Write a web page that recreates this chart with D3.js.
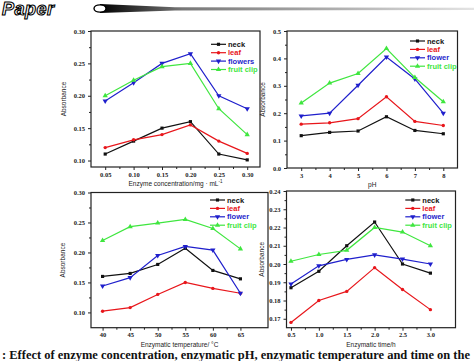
<!DOCTYPE html>
<html><head><meta charset="utf-8">
<script src="https://cdn.jsdelivr.net/npm/d3@7"></script>
<style>
html,body{margin:0;padding:0;background:#fff;}
svg{display:block;}
</style></head>
<body>
<script>
// ---- DATA ----
const seriesNames = ["neck", "leaf", "flowers", "fruit clip"];
const seriesNamesB = ["neck", "leaf", "flower", "fruit clip"];

// (a) enzyme concentration
const concX = [0.05, 0.10, 0.15, 0.20, 0.25, 0.30];
const concNeck = [0.110, 0.130, 0.150, 0.160, 0.110, 0.101];
const concLeaf = [0.120, 0.132, 0.140, 0.155, 0.130, 0.111];
const concFlower = [0.192, 0.220, 0.250, 0.265, 0.200, 0.180];
const concFruit = [0.200, 0.224, 0.245, 0.250, 0.180, 0.140];
const concXTicks = [0.05, 0.10, 0.15, 0.20, 0.25, 0.30];
const concYTicks = [0.10, 0.15, 0.20, 0.25, 0.30];

// (b) pH
const phX = [3, 4, 5, 6, 7, 8];
const phNeck = [0.118, 0.130, 0.135, 0.187, 0.137, 0.125];
const phLeaf = [0.160, 0.165, 0.180, 0.260, 0.170, 0.155];
const phFlower = [0.190, 0.200, 0.302, 0.405, 0.325, 0.200];
const phFruit = [0.237, 0.310, 0.345, 0.436, 0.330, 0.242];
const phXTicks = [3, 4, 5, 6, 7, 8];
const phYTicks = [0.0, 0.1, 0.2, 0.3, 0.4, 0.5];

// (c) temperature
const tempX = [40, 45, 50, 55, 60, 65];
const tempNeck = [0.160, 0.165, 0.180, 0.207, 0.170, 0.156];
const tempLeaf = [0.102, 0.108, 0.130, 0.150, 0.140, 0.132];
const tempFlower = [0.144, 0.158, 0.195, 0.210, 0.204, 0.132];
const tempFruit = [0.220, 0.243, 0.249, 0.255, 0.240, 0.206];
const tempXTicks = [40, 45, 50, 55, 60, 65];
const tempYTicks = [0.10, 0.15, 0.20, 0.25, 0.30];

// (d) time
const timeX = [0.5, 1.0, 1.5, 2.0, 2.5, 3.0];
const timeNeck = [0.187, 0.196, 0.210, 0.223, 0.200, 0.195];
const timeLeaf = [0.168, 0.180, 0.185, 0.198, 0.186, 0.175];
const timeFlower = [0.189, 0.199, 0.2025, 0.205, 0.2027, 0.200];
const timeFruit = [0.2015, 0.2052, 0.2075, 0.220, 0.2175, 0.210];
const timeXTicks = [0.5, 1.0, 1.5, 2.0, 2.5, 3.0];
const timeYTicks = [0.17, 0.18, 0.19, 0.20, 0.21, 0.22, 0.23, 0.24];

const captionText = ": Effect of enzyme concentration, enzymatic pH, enzymatic temperature and time on the";

// ---- STYLE ----
const colors = ["#111111", "#e8161b", "#1f1fcc", "#3fe63f"];
const symbols = [d3.symbolSquare, d3.symbolCircle, d3.symbolTriangle, d3.symbolTriangle];
const symRot = [0, 0, 180, 0];
const symSize = [10, 9, 12, 12];

const W = 474, H = 361;
const svg = d3.select("body").append("svg").attr("width", W).attr("height", H);

// header
const defs = svg.append("defs");
const grad = defs.append("linearGradient").attr("id", "bar").attr("x1", "0").attr("x2", "1");
grad.append("stop").attr("offset", "0").attr("stop-color", "#000");
grad.append("stop").attr("offset", "0.22").attr("stop-color", "#777");
grad.append("stop").attr("offset", "0.6").attr("stop-color", "#aaa");
grad.append("stop").attr("offset", "1").attr("stop-color", "#e4e4e4");
svg.append("path").attr("d", "M100,4 L175,7.3 L474,7.8 L474,10 L175,10.6 L100,13 Z").attr("fill", "url(#bar)");
svg.append("ellipse").attr("cx", 100).attr("cy", 8.5).attr("rx", 6).attr("ry", 3.6)
  .attr("fill", "#fff").attr("stroke", "#000").attr("stroke-width", 1.4);
svg.append("text").attr("x", 2).attr("y", 15).text("Paper")
  .attr("font-family", "Liberation Sans, Arial").attr("font-style", "italic").attr("font-weight", "bold")
  .attr("font-size", 18).attr("fill", "#fff").attr("stroke", "#000").attr("stroke-width", 1.1)
  .attr("letter-spacing", 0.5);

function panel(cfg) {
  const g = svg.append("g");
  const x = d3.scaleLinear().domain(cfg.xDomain).range([cfg.left, cfg.right]);
  const y = d3.scaleLinear().domain(cfg.yDomain).range([cfg.bottom, cfg.top]);

  // minor ticks
  const xMinor = [];
  for (let i = 0; i < cfg.xTicks.length - 1; i++) xMinor.push((cfg.xTicks[i] + cfg.xTicks[i + 1]) / 2);
  const yMinor = [];
  for (let i = 0; i < cfg.yTicks.length - 1; i++) yMinor.push((cfg.yTicks[i] + cfg.yTicks[i + 1]) / 2);

  g.append("g").attr("transform", `translate(0,${cfg.bottom})`)
    .call(d3.axisBottom(x).tickValues(cfg.xTicks).tickFormat(cfg.xFmt).tickSize(3).tickPadding(2));
  g.append("g").attr("transform", `translate(0,${cfg.bottom})`)
    .call(d3.axisBottom(x).tickValues(xMinor).tickFormat("").tickSize(2));
  g.append("g").attr("transform", `translate(${cfg.left},0)`)
    .call(d3.axisLeft(y).tickValues(cfg.yTicks).tickFormat(cfg.yFmt).tickSize(3).tickPadding(3));
  g.append("g").attr("transform", `translate(${cfg.left},0)`)
    .call(d3.axisLeft(y).tickValues(yMinor).tickFormat("").tickSize(2));
  g.selectAll(".domain").remove();
  g.selectAll(".tick line").attr("stroke", "#222").attr("stroke-width", 1);
  g.selectAll(".tick text").attr("font-family", "Liberation Serif, Times New Roman, serif")
    .attr("font-weight", "bold").attr("font-size", 6.5).attr("fill", "#222");

  // frame
  g.append("rect").attr("x", cfg.left).attr("y", cfg.top)
    .attr("width", cfg.right - cfg.left).attr("height", cfg.bottom - cfg.top)
    .attr("fill", "none").attr("stroke", "#222").attr("stroke-width", 1.2);

  // titles
  g.append("text").attr("x", (cfg.left + cfg.right) / 2).attr("y", cfg.bottom + 19)
    .attr("text-anchor", "middle").attr("font-family", "Liberation Sans, Arial, sans-serif")
    .attr("font-size", 6.5).attr("fill", "#222").text(cfg.xTitle)
    .call(t => { if (cfg.xSup) t.append("tspan").attr("dy", -3).attr("font-size", 4.5).text(cfg.xSup); });
  g.append("text").attr("transform", `translate(${cfg.yTitleX},${(cfg.top + cfg.bottom) / 2}) rotate(-90)`)
    .attr("text-anchor", "middle").attr("font-family", "Liberation Sans, Arial, sans-serif")
    .attr("font-size", 6.5).attr("fill", "#222").text("Absorbance");

  // series
  const line = d3.line().x(d => x(d[0])).y(d => y(d[1]));
  cfg.series.forEach((vals, i) => {
    const pts = cfg.xVals.map((v, j) => [v, vals[j]]);
    g.append("path").datum(pts).attr("d", line).attr("fill", "none")
      .attr("stroke", colors[i]).attr("stroke-width", 1.2);
    g.selectAll(null).data(pts).enter().append("path")
      .attr("d", d3.symbol().type(symbols[i]).size(symSize[i]))
      .attr("transform", d => `translate(${x(d[0])},${y(d[1])}) rotate(${symRot[i]})`)
      .attr("fill", colors[i]);
  });

  // legend
  cfg.names.forEach((n, i) => {
    const ly = cfg.legY + i * 8.4;
    g.append("line").attr("x1", cfg.legX).attr("x2", cfg.legX + 15).attr("y1", ly).attr("y2", ly)
      .attr("stroke", colors[i]).attr("stroke-width", 1.2);
    g.append("path").attr("d", d3.symbol().type(symbols[i]).size(symSize[i]))
      .attr("transform", `translate(${cfg.legX + 7.5},${ly}) rotate(${symRot[i]})`).attr("fill", colors[i]);
    g.append("text").attr("x", cfg.legX + 17).attr("y", ly + 2.6)
      .attr("font-family", "Liberation Sans, Arial, sans-serif").attr("font-weight", "bold")
      .attr("font-size", 7.5).attr("fill", colors[i]).text(n);
  });
}

const f2 = d3.format(".2f"), f1 = d3.format(".1f"), f0 = d3.format("d");

panel({ left: 91, right: 260, top: 31, bottom: 167, xDomain: [0.025, 0.3225], yDomain: [0.09, 0.30],
  xVals: concX, series: [concNeck, concLeaf, concFlower, concFruit], xTicks: concXTicks, yTicks: concYTicks,
  xFmt: f2, yFmt: f2, xTitle: "Enzyme concentration/mg · mL", xSup: "-1", yTitleX: 66,
  names: seriesNames, legX: 211, legY: 44.3 });

panel({ left: 287, right: 457.5, top: 31, bottom: 168, xDomain: [2.5, 8.5], yDomain: [0, 0.5],
  xVals: phX, series: [phNeck, phLeaf, phFlower, phFruit], xTicks: phXTicks, yTicks: phYTicks,
  xFmt: f0, yFmt: f1, xTitle: "pH", yTitleX: 265,
  names: seriesNamesB, legX: 410, legY: 41 });

panel({ left: 91, right: 268, top: 192.5, bottom: 327.7, xDomain: [37.9, 70], yDomain: [0.0745, 0.30],
  xVals: tempX, series: [tempNeck, tempLeaf, tempFlower, tempFruit], xTicks: tempXTicks, yTicks: tempYTicks,
  xFmt: f0, yFmt: f2, xTitle: "Enzymatic temperature/ °C", yTitleX: 65,
  names: seriesNamesB, legX: 210, legY: 200 });

panel({ left: 286.5, right: 455.5, top: 191, bottom: 327.7, xDomain: [0.42, 3.45], yDomain: [0.1651, 0.24],
  xVals: timeX, series: [timeNeck, timeLeaf, timeFlower, timeFruit], xTicks: timeXTicks, yTicks: timeYTicks,
  xFmt: f1, yFmt: f2, xTitle: "Enzymatic time/h", yTitleX: 264,
  names: seriesNamesB, legX: 405.3, legY: 200 });

svg.append("text").attr("x", 2).attr("y", 359).text(captionText)
  .attr("font-family", "Liberation Serif, Times New Roman, serif").attr("font-weight", "bold")
  .attr("font-size", 12).attr("fill", "#111")
  .attr("textLength", 468).attr("lengthAdjust", "spacingAndGlyphs");
</script>
</body></html>
